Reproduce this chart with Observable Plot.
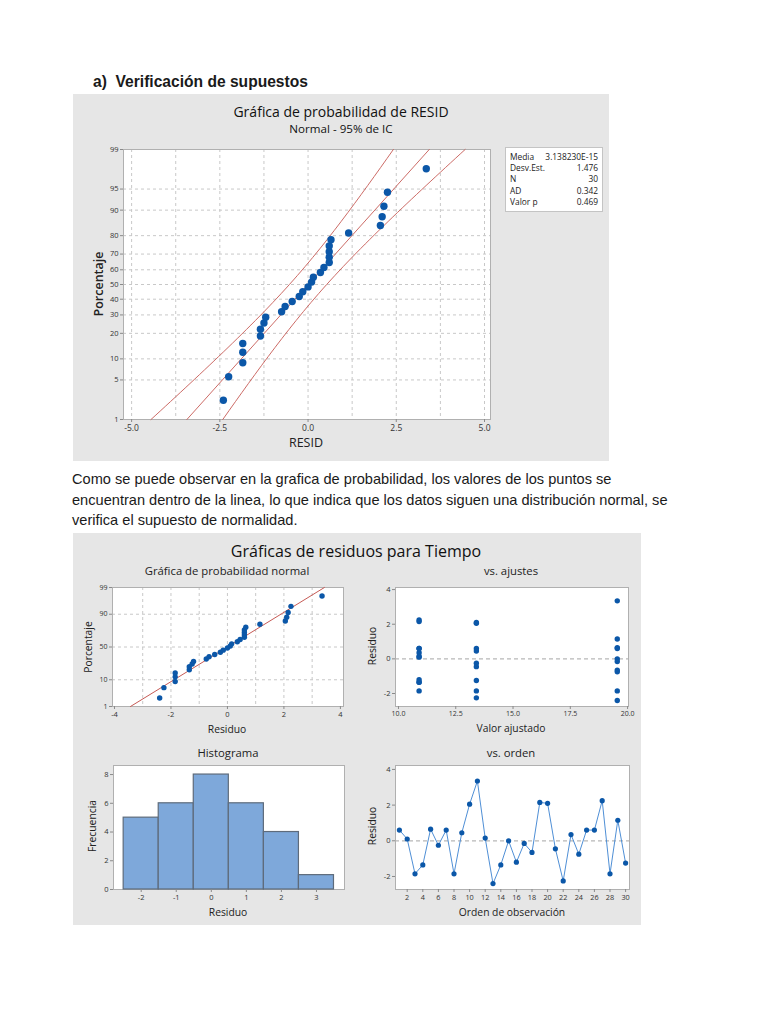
<!DOCTYPE html>
<html><head><meta charset="utf-8">
<script src="https://cdn.jsdelivr.net/npm/d3@7"></script>
<script src="https://cdn.jsdelivr.net/npm/@observablehq/plot@0.6"></script>
<style>
body{margin:0;background:#fff;width:768px;height:1024px;position:relative;overflow:hidden;font-family:"Open Sans",sans-serif;}
.panel{position:absolute;background:#e6e6e6;}
.lbl{position:absolute;white-space:nowrap;transform:translate(-50%,-50%);color:#222;line-height:1;}
.doc{position:absolute;font-family:"Liberation Sans",Arial,sans-serif;color:#1a1a1a;white-space:nowrap;}
.stats{position:absolute;background:#fff;border:1px solid #c4c4c4;font-size:8.4px;color:#222;box-sizing:border-box;padding:3px 4px 0 4px;}
.stats div{display:flex;justify-content:space-between;height:11.2px;line-height:11.2px;}
</style>
</head><body>
<script>
// ---------- data ----------
const observation = [1,2,3,4,5,6,7,8,9,10,11,12,13,14,15,16,17,18,19,20,21,22,23,24,25,26,27,28,29,30];
const residual = [0.6,0.1,-1.85,-1.35,0.65,-0.25,0.6,-1.85,0.45,2.05,3.35,0.15,-2.4,-1.35,0.0,-1.2,-0.15,-0.65,2.15,2.1,-0.45,-2.25,0.35,-0.75,0.6,0.6,2.25,-1.85,1.15,-1.25];
const fitted = [10.9,10.9,10.9,10.9,19.55,13.4,13.4,13.4,13.4,13.4,19.55,10.9,19.55,10.9,19.55,10.9,19.55,19.55,10.9,13.4,13.4,13.4,10.9,19.55,10.9,19.55,10.9,19.55,19.55,13.4];
const statLabels = ["Media","Desv.Est.","N","AD","Valor p"];
const statValues = ["3.138230E-15","1.476","30","0.342","0.469"];
const fitMean = 3.138230e-15, fitSd = 1.476, fitN = 30;
const pctTicksTop = [1,5,10,20,30,40,50,60,70,80,90,95,99];
const pctTicksSmall = [1,10,50,90,99];
const histEdges = [-2.5,-1.5,-0.5,0.5,1.5,2.5,3.5];

// ---------- helpers ----------
function probit(p){
  const a=[-3.969683028665376e+01,2.209460984245205e+02,-2.759285104469687e+02,1.383577518672690e+02,-3.066479806614716e+01,2.506628277459239e+00];
  const b=[-5.447609879822406e+01,1.615858368580409e+02,-1.556989798598866e+02,6.680131188771972e+01,-1.328068155288572e+01];
  const c=[-7.784894002430293e-03,-3.223964580411365e-01,-2.400758277161838e+00,-2.549732539343734e+00,4.374664141464968e+00,2.938163982698783e+00];
  const d=[7.784695709041462e-03,3.224671290700398e-01,2.445134137142996e+00,3.754408661907416e+00];
  const pl=0.02425, ph=1-pl; let q,r;
  if(p<pl){q=Math.sqrt(-2*Math.log(p));return (((((c[0]*q+c[1])*q+c[2])*q+c[3])*q+c[4])*q+c[5])/((((d[0]*q+d[1])*q+d[2])*q+d[3])*q+1);}
  if(p>ph){q=Math.sqrt(-2*Math.log(1-p));return -(((((c[0]*q+c[1])*q+c[2])*q+c[3])*q+c[4])*q+c[5])/((((d[0]*q+d[1])*q+d[2])*q+d[3])*q+1);}
  q=p-0.5;r=q*q;return (((((a[0]*r+a[1])*r+a[2])*r+a[3])*r+a[4])*r+a[5])*q/(((((b[0]*r+b[1])*r+b[2])*r+b[3])*r+b[4])*r+1);
}
const pctFormat = ticks => z => { const t = ticks.find(p => Math.abs(probit(p/100)-z) < 1e-9); return t === undefined ? "" : String(t); };
const z1 = probit(0.01), z99 = probit(0.99);

// probability-plot points: sorted residuals with median ranks
const sorted = residual.slice().sort((a,b)=>a-b);
const probPts = sorted.map((v,i)=>({x:v, z:probit((i+1-0.3)/(fitN+0.4))}));
// fitted normal line and 95% CI for percentiles
const zGrid = d3.range(0, 61).map(i => z1 + (z99 - z1) * i / 60);
const fitLine = [{x: fitMean + fitSd*z1, z: z1}, {x: fitMean + fitSd*z99, z: z99}];
const band = zGrid.map(z => {
  const c = fitMean + fitSd*z, hw = 1.96*fitSd*Math.sqrt(1/fitN + z*z/(2*fitN));
  return {z, lo: c - hw, hi: c + hw};
});

const BLUE = "#0b57a8", RED = "#c65a55", GRID = "#c8c8c8", FRAME = "#b0b0b0";
const rows = observation.map((o,i)=>({o, r: residual[i], f: fitted[i]}));

function mount(el, left, top){ el.style.position="absolute"; el.style.left=left+"px"; el.style.top=top+"px"; document.body.appendChild(el); }
function label(text, x, y, css){ const d=document.createElement("div"); d.className="lbl"; d.textContent=text; Object.assign(d.style,{left:x+"px",top:y+"px"},css||{}); document.body.appendChild(d); return d; }
function panel(x,y,w,h){ const d=document.createElement("div"); d.className="panel"; Object.assign(d.style,{left:x+"px",top:y+"px",width:w+"px",height:h+"px"}); document.body.appendChild(d); }
function axisOpts(o){ return Object.assign({tickSize:3, tickPadding:2, stroke:"#8a8a8a", fill:"#333", label:null}, o); }
function mk(frame, m, x, y, marks, fs){
  const [L,T,W,H] = frame, [mt,mr,mb,ml] = m;
  const p = Plot.plot({
    width: W+ml+mr, height: H+mt+mb,
    marginTop: mt, marginRight: mr, marginBottom: mb, marginLeft: ml,
    style: {background:"transparent", fontFamily:"Open Sans", fontSize:(fs||8)+"px", overflow:"visible"},
    x, y, marks
  });
  mount(p, L-ml, T-mt);
}

// ---------- document text ----------
const h = document.createElement("div"); h.className="doc"; h.textContent="a)  Verificación de supuestos";
Object.assign(h.style,{left:"93px",top:"73px",fontSize:"15.6px",fontWeight:"bold",whiteSpace:"pre"}); document.body.appendChild(h);
const para = document.createElement("div"); para.className="doc";
para.innerHTML = "Como se puede observar en la grafica de probabilidad, los valores de los puntos se<br>encuentran dentro de la linea, lo que indica que los datos siguen una distribución normal, se<br>verifica el supuesto de normalidad.";
Object.assign(para.style,{left:"72px",top:"469px",fontSize:"14.6px",lineHeight:"20.5px"}); document.body.appendChild(para);

// ---------- top chart ----------
panel(73,94,536,367);
label("Gráfica de probabilidad de RESID", 341, 112, {fontSize:"14px", color:"#111"});
label("Normal - 95% de IC", 341, 128.5, {fontSize:"11.6px", color:"#111"});
mk([123,149,367,270],[6,6,20,30],
  {domain:[-5.23,5.17]},
  {domain:[z1,z99]},
  [
    Plot.frame({fill:"white"}),
    Plot.gridX([-5,-3.75,-2.5,-1.25,0,1.25,2.5,3.75,5],{stroke:GRID,strokeOpacity:1,strokeDasharray:"3,3"}),
    Plot.gridY(pctTicksTop.slice(1,-1).map(p=>probit(p/100)),{stroke:GRID,strokeOpacity:1,strokeDasharray:"3,3"}),
    Plot.frame({stroke:FRAME}),
    Plot.line(band,{x:"lo",y:"z",stroke:RED,strokeWidth:0.9}),
    Plot.line(band,{x:"hi",y:"z",stroke:RED,strokeWidth:0.9}),
    Plot.line(fitLine,{x:"x",y:"z",stroke:RED,strokeWidth:0.9}),
    Plot.dot(probPts,{x:"x",y:"z",r:3.7,fill:BLUE,stroke:"none"}),
    Plot.axisX(axisOpts({ticks:[-5,-2.5,0,2.5,5], tickFormat:d=>d.toFixed(1), fontSize:8.5})),
    Plot.axisY(axisOpts({ticks:pctTicksTop.map(p=>probit(p/100)), tickFormat:pctFormat(pctTicksTop), fontSize:7.5}))
  ]);
label("Porcentaje", 99, 284, {fontSize:"12.5px", fontWeight:"600", transform:"translate(-50%,-50%) rotate(-90deg)"});
label("RESID", 306, 443, {fontSize:"12.5px"});
const st = document.createElement("div"); st.className="stats";
Object.assign(st.style,{left:"505px",top:"147px",width:"98px",height:"65px"});
st.innerHTML = statLabels.map((l,i)=>`<div><span>${l}</span><span>${statValues[i]}</span></div>`).join("");
document.body.appendChild(st);

// ---------- bottom panel ----------
panel(73,533,568,392);
label("Gráficas de residuos para Tiempo", 356, 551, {fontSize:"16px", color:"#111"});
label("Gráfica de probabilidad normal", 227, 571, {fontSize:"11.3px"});
label("vs. ajustes", 511, 571, {fontSize:"11.3px"});
label("Histograma", 228, 753, {fontSize:"11.3px"});
label("vs. orden", 511, 753, {fontSize:"11.3px"});

// normal probability
mk([112,587,231,119],[6,8,16,25],
  {domain:[-4.07,4.11]},
  {domain:[z1,z99]},
  [
    Plot.frame({fill:"white"}),
    Plot.gridX([-3,-2,-1,0,1,2,3],{stroke:GRID,strokeOpacity:1,strokeDasharray:"3,3"}),
    Plot.gridY([10,50,90].map(p=>probit(p/100)),{stroke:GRID,strokeOpacity:1,strokeDasharray:"3,3"}),
    Plot.frame({stroke:FRAME}),
    Plot.line(fitLine,{x:"x",y:"z",stroke:RED,strokeWidth:1}),
    Plot.dot(probPts,{x:"x",y:"z",r:2.7,fill:BLUE,stroke:"none"}),
    Plot.axisX(axisOpts({ticks:[-4,-2,0,2,4], tickFormat:d=>String(d), fontSize:7.5})),
    Plot.axisY(axisOpts({ticks:pctTicksSmall.map(p=>probit(p/100)), tickFormat:pctFormat(pctTicksSmall), fontSize:7}))
  ]);
label("Residuo", 227, 729, {fontSize:"10.3px"});
label("Porcentaje", 88, 647, {fontSize:"10.3px", transform:"translate(-50%,-50%) rotate(-90deg)"});

// vs fits
mk([395,587,233,119],[6,8,16,25],
  {domain:[9.87,20.04]},
  {domain:[-2.75,4.12]},
  [
    Plot.frame({fill:"white"}),
    Plot.ruleY([0],{stroke:"#b8b8b8",strokeDasharray:"4,3",strokeWidth:1.2}),
    Plot.frame({stroke:FRAME}),
    Plot.dot(rows,{x:"f",y:"r",r:2.7,fill:BLUE,stroke:"none"}),
    Plot.axisX(axisOpts({ticks:[10,12.5,15,17.5,20], tickFormat:d=>d.toFixed(1), fontSize:7})),
    Plot.axisY(axisOpts({ticks:[-2,0,2,4], tickFormat:d=>String(d), fontSize:7.5}))
  ]);
label("Valor ajustado", 511, 728, {fontSize:"10.3px"});
label("Residuo", 372, 646, {fontSize:"10.3px", transform:"translate(-50%,-50%) rotate(-90deg)"});

// histogram
mk([113,765,231,124],[6,8,16,25],
  {domain:[-2.79,3.8]},
  {domain:[0,8.63]},
  [
    Plot.frame({fill:"white"}),
    Plot.frame({stroke:FRAME}),
    Plot.rectY(residual, Plot.binX({y:"count"}, {x:d=>d, thresholds:histEdges, fill:"#7ea8da", stroke:"#5e6b7b", strokeWidth:1.2, inset:0})),
    Plot.axisX(axisOpts({ticks:[-2,-1,0,1,2,3], tickFormat:d=>String(d), fontSize:7.5})),
    Plot.axisY(axisOpts({ticks:[0,2,4,6,8], tickFormat:d=>String(d), fontSize:7.5}))
  ]);
label("Residuo", 228, 912, {fontSize:"10.3px"});
label("Frecuencia", 92, 826, {fontSize:"10.3px", transform:"translate(-50%,-50%) rotate(-90deg)"});

// vs order
mk([395,765,234,124],[6,8,16,25],
  {domain:[0.5,30.5]},
  {domain:[-2.73,4.22]},
  [
    Plot.frame({fill:"white"}),
    Plot.ruleY([0],{stroke:"#b8b8b8",strokeDasharray:"4,3",strokeWidth:1.2}),
    Plot.frame({stroke:FRAME}),
    Plot.line(rows,{x:"o",y:"r",stroke:"#4f8fd6",strokeWidth:1}),
    Plot.dot(rows,{x:"o",y:"r",r:2.6,fill:BLUE,stroke:"none"}),
    Plot.axisX(axisOpts({ticks:[2,4,6,8,10,12,14,16,18,20,22,24,26,28,30], tickFormat:d=>String(d), fontSize:7.3})),
    Plot.axisY(axisOpts({ticks:[-2,0,2,4], tickFormat:d=>String(d), fontSize:7.5}))
  ]);
label("Orden de observación", 512, 912, {fontSize:"10.3px"});
label("Residuo", 372, 826, {fontSize:"10.3px", transform:"translate(-50%,-50%) rotate(-90deg)"});
</script>
</body></html>
